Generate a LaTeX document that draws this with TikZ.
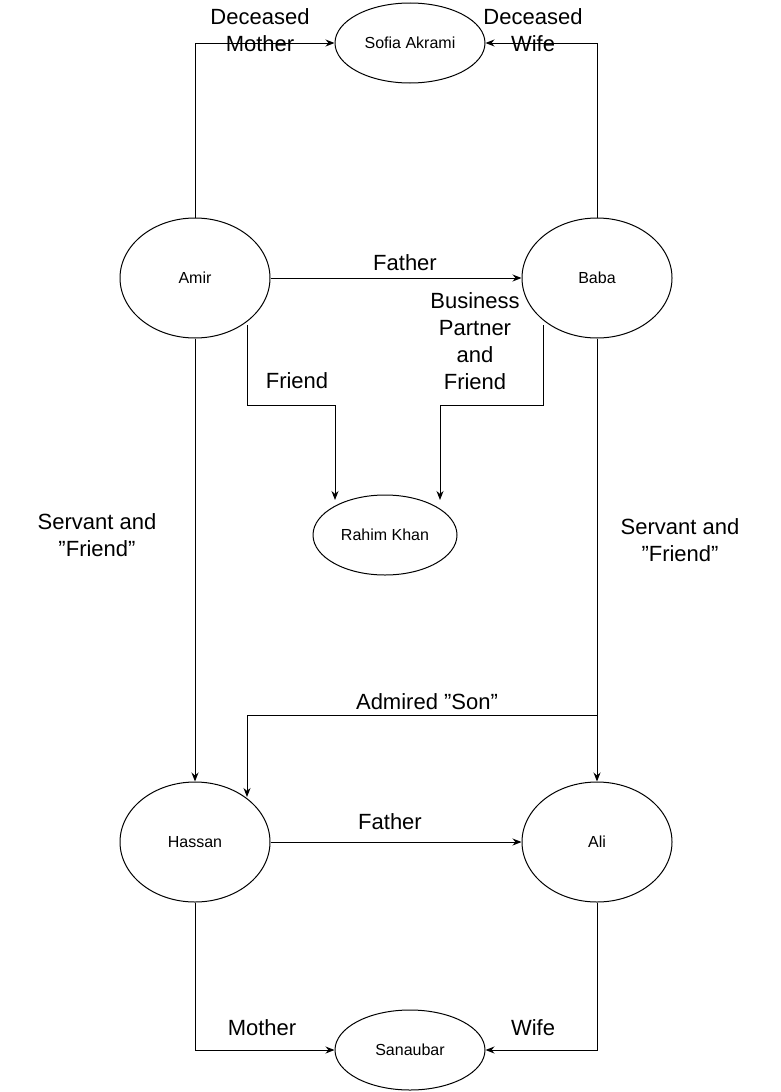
\documentclass[tikz,border=0pt]{standalone}
\usepackage{fontspec}
\setmainfont{Liberation Sans}
\usetikzlibrary{shapes.geometric,arrows.meta}
\newcommand{\qq}{\symbol{34}}
\begin{document}
\begin{tikzpicture}[x=1pt,y=-1pt,
  ell/.style={draw,ellipse,line width=1pt,font=\fontsize{16}{18}\selectfont,inner sep=0pt},
  big/.style={ell,minimum width=150pt,minimum height=120pt},
  small/.style={ell,minimum width=150pt,minimum height=80pt},
  conn/.style={draw,line width=1pt,-{Stealth[length=9pt,width=7pt]}},
  lab/.style={font=\fontsize{22}{27}\selectfont,align=center}]
\useasboundingbox (0,0) rectangle (780,1092);
\node[small] (sofia) at (410,43) {Sofia Akrami};
\node[big] (amir) at (195,278) {Amir};
\node[big] (baba) at (597,278) {Baba};
\node[small,minimum width=144pt] (rahim) at (385,535) {Rahim Khan};
\node[big] (hassan) at (195,842) {Hassan};
\node[big] (ali) at (597,842) {Ali};
\node[small] (sana) at (410,1050) {Sanaubar};
\draw[conn] (amir.north) |- (sofia.west);
\draw[conn] (baba.north) |- (sofia.east);
\draw[conn] (amir.east) -- (baba.west);
\coordinate (a1) at (247,325);
\coordinate (a2) at (247,405);
\coordinate (r1) at (335,405);
\coordinate (b1) at (543,325);
\coordinate (b2) at (543,405);
\coordinate (r2) at (440,405);
\coordinate (r1e) at (335,500);
\coordinate (r2e) at (440,500);
\draw[conn] (a1) -- (a2) -- (r1) -- (r1e);
\draw[conn] (b1) -- (b2) -- (r2) -- (r2e);
\draw[conn] (amir.south) -- (hassan.north);
\draw[conn] (baba.south) -- (ali.north);
\coordinate (s1) at (597,715);
\coordinate (s2) at (247,715);
\coordinate (s3) at (247,797);
\draw[conn] (s1) -- (s2) -- (s3);
\draw[conn] (hassan.east) -- (ali.west);
\draw[conn] (hassan.south) |- (sana.west);
\draw[conn] (ali.south) |- (sana.east);
\node[lab] at (260,30) {Deceased\\Mother};
\node[lab] at (533,30) {Deceased\\Wife};
\node[lab] at (405,263) {Father};
\node[lab] at (297,381) {Friend};
\node[lab] at (475,341) {Business\\Partner\\and\\Friend};
\node[lab] at (97,535) {Servant and\\\qq Friend\qq};
\node[lab] at (680,540) {Servant and\\\qq Friend\qq};
\node[lab] at (427,702) {Admired \qq Son\qq};
\node[lab] at (390,822) {Father};
\node[lab] at (262,1028) {Mother};
\node[lab] at (533,1028) {Wife};
\end{tikzpicture}
\end{document}
